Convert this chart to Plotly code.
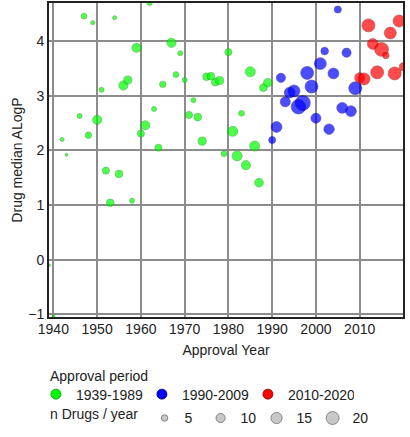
import numpy as np
import plotly.graph_objects as go

# Median ALogP per approval year, bubble size = number of drugs approved that year
years_old = [1939, 1940, 1942, 1943, 1946, 1947, 1948, 1949, 1950, 1951, 1952, 1953, 1954,
             1955, 1956, 1957, 1958, 1959, 1960, 1961, 1962, 1963, 1964, 1965, 1967, 1968,
             1969, 1970, 1971, 1972, 1973, 1974, 1975, 1976, 1977, 1978, 1979, 1980, 1981,
             1982, 1983, 1984, 1985, 1986, 1987, 1988, 1989]
alogp_old = [-0.10, -1.04, 2.20, 1.92, 2.63, 4.46, 2.28, 4.34, 2.56, 3.11, 1.63, 1.04, 4.43,
             1.57, 3.19, 3.29, 1.08, 3.88, 2.31, 2.46, 4.70, 2.76, 2.05, 3.21, 3.97, 3.39,
             3.78, 3.29, 2.65, 2.92, 2.61, 2.17, 3.35, 3.36, 3.25, 3.28, 1.94, 3.80, 2.35,
             1.90, 2.68, 1.73, 3.44, 2.08, 1.41, 3.15, 3.24]
ndrugs_old = [1, 1, 2, 1, 3, 4, 5, 2, 10, 3, 6, 7, 2,
              7, 10, 8, 3, 10, 6, 10, 3, 3, 6, 5, 10, 4,
              3, 3, 6, 3, 7, 8, 7, 7, 7, 8, 4, 6, 12,
              12, 4, 10, 12, 12, 9, 7, 9]

years_mid = [1990, 1991, 1992, 1993, 1994, 1995, 1996, 1997, 1998, 1999, 2000, 2001, 2002,
             2003, 2004, 2005, 2006, 2007, 2008, 2009]
alogp_mid = [2.19, 2.43, 3.33, 2.89, 3.06, 3.09, 2.80, 2.87, 3.42, 3.17, 2.59, 3.59, 3.82,
             2.39, 3.41, 4.58, 2.78, 3.79, 2.72, 3.14]
ndrugs_mid = [6, 14, 10, 12, 14, 17, 25, 27, 20, 20, 12, 17, 7,
              13, 14, 6, 14, 10, 14, 20]

years_new = [2010, 2011, 2012, 2013, 2014, 2015, 2016, 2017, 2018, 2019, 2020]
alogp_new = [3.33, 3.31, 4.29, 3.95, 3.43, 3.85, 3.74, 4.15, 3.41, 4.37, 3.53]
ndrugs_new = [12, 17, 20, 14, 20, 23, 5, 17, 20, 17, 8]

period_names = ['1939-1989', '1990-2009', '2010-2020']
size_legend = [5, 10, 15, 20]

# bubble scaling (area mode): diameter = sqrt(2*n/sizeref)
SIZEREF = 0.238


def bubble_px(n):
    return np.sqrt(2 * n / SIZEREF)


groups = [
    (years_old, alogp_old, ndrugs_old, '#00ff00', '#109010'),
    (years_mid, alogp_mid, ndrugs_mid, '#0000ff', '#00007a'),
    (years_new, alogp_new, ndrugs_new, '#ff0000', '#8a0000'),
]

fig = go.Figure()

for x, y, n, fill, edge in groups:
    fig.add_trace(go.Scatter(
        x=x, y=y, mode='markers', showlegend=False,
        marker=dict(size=n, sizemode='area', sizeref=SIZEREF, color=fill,
                    line=dict(color=edge, width=0.6)),
        hovertemplate='%{x}: %{y}<extra></extra>',
    ))

# legend: approval period
for name, (_, _, _, fill, edge) in zip(period_names, groups):
    fig.add_trace(go.Scatter(
        x=[None], y=[None], mode='markers', name=name, legend='legend',
        marker=dict(size=10, color=fill, line=dict(color=edge, width=0.8)),
    ))

# legend: bubble sizes
for n in size_legend:
    fig.add_trace(go.Scatter(
        x=[None], y=[None], mode='markers', name=str(n), legend='legend2',
        marker=dict(size=bubble_px(n), color='#c8c8c8', line=dict(color='#707070', width=0.8)),
    ))

font = dict(family='Liberation Sans, Arial, sans-serif', size=13, color='#222')
legend_font = dict(family='Liberation Sans, Arial, sans-serif', size=14, color='#222')

fig.update_layout(
    width=410, height=437,
    margin=dict(l=49, r=7, t=3, b=118),
    plot_bgcolor='white', paper_bgcolor='white',
    font=font,
    legend=dict(
        orientation='h', x=-0.037, xanchor='left', y=-0.196, yanchor='top',
        itemsizing='trace', entrywidth=61, entrywidthmode='pixels',
        font=legend_font, bgcolor='rgba(0,0,0,0)',
    ),
    legend2=dict(
        orientation='h', x=0.27, xanchor='left', y=-0.272, yanchor='top',
        itemsizing='trace', entrywidth=11, entrywidthmode='pixels',
        font=legend_font, bgcolor='rgba(0,0,0,0)',
    ),
    annotations=[
        dict(text='Approval period', xref='paper', yref='paper', x=-0.003, y=-0.187,
             xanchor='left', yanchor='middle', showarrow=False, font=legend_font),
        dict(text='n Drugs / year', xref='paper', yref='paper', x=-0.003, y=-0.31,
             xanchor='left', yanchor='middle', showarrow=False, font=legend_font),
    ],
)

fig.update_xaxes(
    range=[1939, 2019.9], tickmode='linear', tick0=1940, dtick=10,
    showgrid=True, gridcolor='#8c8c8c', gridwidth=1.5,
    showline=True, linecolor='#222', linewidth=2, mirror=True,
    zeroline=False, ticklabelstandoff=-2, automargin=False,
    tickfont=dict(size=14),
    title=dict(text='Approval Year', standoff=9, font=dict(size=14)),
)
fig.update_yaxes(
    range=[-1.05, 4.7], tickmode='linear', tick0=-1, dtick=1,
    showgrid=True, gridcolor='#8c8c8c', gridwidth=1.5,
    showline=True, linecolor='#222', linewidth=2, mirror=True,
    zeroline=False, automargin=False,
    tickfont=dict(size=14),
    title=dict(text='Drug median ALogP', standoff=2, font=dict(size=14)),
)

fig.write_html('out.html', post_script=(
    "document.body.style.margin='0';"
    "document.querySelectorAll('.modebar-container').forEach(function(e){e.style.display='none';});"
))
